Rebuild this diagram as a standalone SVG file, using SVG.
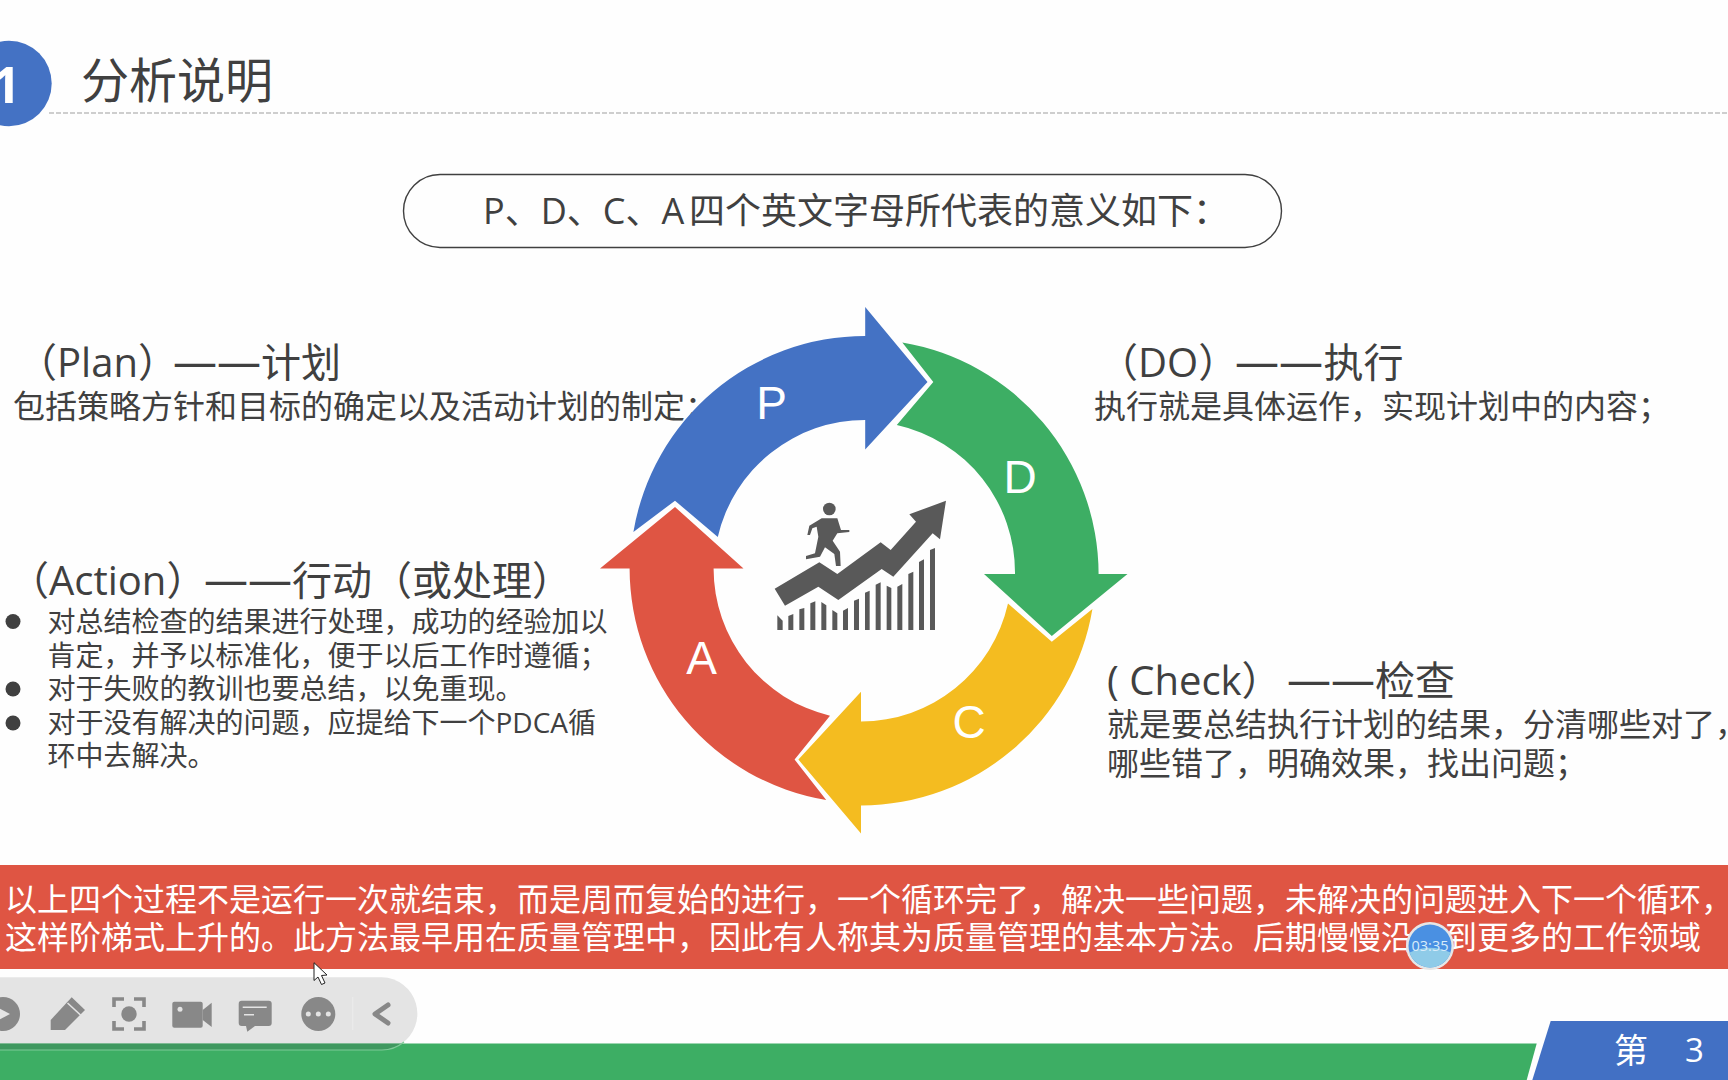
<svg xmlns="http://www.w3.org/2000/svg" width="1728" height="1080" viewBox="0 0 1728 1080">
<style>
text{font-family:"Open Sans","Noto Sans CJK SC",sans-serif;fill:#404040}
.h{font-size:40px}
.d{font-size:44px}
.b{font-size:32px}
.s{font-size:28px}
.w{font-size:32px;fill:#fff}
.l{font-family:"Liberation Sans",Arial,sans-serif;font-size:46px;fill:#fff;text-anchor:middle}
.ic{fill:#888}
.li{fill:none;stroke:#e4e4e4;stroke-width:1.6}
</style>
<rect width="1728" height="1080" fill="#fefefe"/>
<g id="header">
<circle cx="9" cy="83.5" r="42.7" fill="#4472c4"/>
<text x="-8" y="103" font-size="50" font-weight="700" style="fill:#fff">1</text>
<text x="81" y="98" font-size="48">分析说明</text>
<line x1="49" y1="113" x2="1728" y2="113" stroke="#bfbfbf" stroke-width="1.3" stroke-dasharray="5 2"/>
</g>
<g id="pill">
<rect x="403.5" y="174.5" width="878" height="73" rx="36.5" fill="#fefefe" stroke="#404040" stroke-width="1.4"/>
<text x="483" y="224" font-size="36">P、D、C、A<tspan x="689">四个英文字母所代表的意义如下：</tspan></text>
</g>
<g id="plan-text">
<text class="h" x="17" y="377">（Plan）<tspan class="d" x="173">——</tspan><tspan x="261">计划</tspan></text>
<text class="b" x="13" y="418">包括策略方针和目标的确定以及活动计划的制定；</text>
</g>
<g id="do-text">
<text class="h" x="1098" y="377">（DO）<tspan class="d" x="1235">——</tspan><tspan x="1323.5">执行</tspan></text>
<text class="b" x="1094" y="418">执行就是具体运作，实现计划中的内容；</text>
</g>
<g id="check-text">
<text class="h" x="1107" y="695">( Check）<tspan class="d" x="1287">——</tspan><tspan x="1375">检查</tspan></text>
<text class="b" x="1107" y="736">就是要总结执行计划的结果，分清哪些对了，</text>
<text class="b" x="1107" y="775">哪些错了，明确效果，找出问题；</text>
</g>
<g id="action-text">
<text class="h" x="9" y="595">（Action）<tspan class="d" x="204">——</tspan><tspan x="292">行动（或处理）</tspan></text>
<g fill="#404040"><circle cx="13" cy="621.5" r="7.5"/><circle cx="13" cy="689" r="7.5"/><circle cx="13" cy="723" r="7.5"/></g>
<text class="s" x="47.5" y="632">对总结检查的结果进行处理，成功的经验加以</text>
<text class="s" x="47.5" y="665.5">肯定，并予以标准化，便于以后工作时遵循；</text>
<text class="s" x="47.5" y="699">对于失败的教训也要总结，以免重现。</text>
<text class="s" x="47.5" y="733">对于没有解决的问题，应提给下一个PDCA循</text>
<text class="s" x="47.5" y="766">环中去解决。</text>
</g>
<g id="node-p">
<path fill="#4472c4" d="M633.4 532A235 235 0 0 1 865.2 336V307.1L927.5 382.1L865.2 449.6V420A151 151 0 0 0 717.8 537L675 500.7Z"/>
<text class="l" x="771.5" y="419">P</text>
</g>
<g id="node-d">
<path fill="#3dae64" d="M902.3 342.5A235 235 0 0 1 1098.6 573.9H1127.5L1051.8 636L984 573.9H1015A151 151 0 0 0 896.8 425L933.3 382.1Z"/>
<text class="l" x="1020" y="493">D</text>
</g>
<g id="node-c">
<path fill="#f4bc20" d="M1092.4 608.9A235 235 0 0 1 861 805.5V833.5L798.4 759.6L861 691.8V721.5A151 151 0 0 0 1008 603.6L1051.8 641.8Z"/>
<text class="l" x="969" y="738">C</text>
</g>
<g id="node-a">
<path fill="#df5543" d="M826.2 800A235 235 0 0 1 629.6 568.6H600L675 507L743.5 568.6H713.6A151 151 0 0 0 830 715.7L794.6 759.6Z"/>
<text class="l" x="701.6" y="674">A</text>
</g>
<g id="center-icon" fill="#595959" transform="translate(760 490) scale(.33333)">
<circle cx="208" cy="57" r="19"/>
<path d="M142 135L148 107L185 85H232L243 120H268V126L232 130L218 152L240 185L242 228H228L223 192L195 172L180 200L138 208V198L165 190L175 140L170 110L157 115L150 135Z"/>
<path d="M44 296L178 217L232 252L362 157L392 180L468 95L448 73L558 32L540 148L518 130L400 260L365 237L235 330L175 290L75 347Z"/>
<path d="M52 420V376L68 392V420ZM85 420V378L100 372V420ZM118 420V358L133 354V420ZM151 420V340L166 334V420ZM184 420V336L199 346V420ZM217 420V360L232 370V420ZM249 420V362L264 354V420ZM282 420V332L297 326V420ZM315 420V308L329 302V420ZM347 420V284L362 277V420ZM380 420V287L394 294V420ZM412 420V290L427 282V420ZM445 420V252L460 245V420ZM477 420V216L492 208V420ZM510 420V180L525 174V420Z"/>
</g>
<g id="banner">
<rect x="0" y="865" width="1728" height="104" fill="#df5543"/>
<text class="w" x="5" y="911">以上四个过程不是运行一次就结束，而是周而复始的进行，一个循环完了，解决一些问题，未解决的问题进入下一个循环，</text>
<text class="w" x="5" y="949">这样阶梯式上升的。此方法最早用在质量管理中，因此有人称其为质量管理的基本方法。后期慢慢沿</text>
<text class="w" x="1445" y="949">到更多的工作领域</text>
</g>
<g id="timer">
<circle cx="1430" cy="946" r="24" fill="#e6e6e6"/>
<circle cx="1430" cy="946" r="21.5" fill="#4a90e2"/>
<path d="M1409.5 952.5Q1430 943 1450.5 952.5A21.5 21.5 0 0 1 1409.5 952.5Z" fill="#8fcbe8"/>
<text x="1430" y="951" font-size="14.5" text-anchor="middle" style="fill:#d8ecfa">03:35</text>
</g>
<g id="footer">
<path d="M0 1043.5H1536.7L1526.7 1080H0Z" fill="#3dae64"/>
<path d="M1550.7 1021H1728V1080H1532.3Z" fill="#4270c4"/>
<text x="1614" y="1063" font-size="34" style="fill:#fff">第</text>
<text x="1685" y="1062" font-size="33" style="fill:#fff">3</text>
</g>
<g id="toolbar">
<path d="M0 977.3H382A36.3 36.3 0 0 1 401.6 1043.5H0Z" fill="#e4e4e4"/>
<path d="M0 1043.5H401.6Q392 1050 382 1050H0Z" fill="#3f985f"/>
<path d="M0 1050H382Q394 1050 404 1042" fill="none" stroke="#7fc997" stroke-width="1.2"/>
<circle class="ic" cx="3" cy="1014" r="17"/>
<path d="M-5 1006L10 1014L-5 1022Z" fill="#e4e4e4"/>
<path class="ic" d="M50.7 1030V1020L71.7 997.3L85 1010L65 1030Z"/>
<path class="li" d="M67.5 1003L80.5 1015"/>
<g fill="none" stroke="#888" stroke-width="3.6"><path d="M114 1007V999H124M134 999H144V1007M144 1021V1029H134M124 1029H114V1021"/></g>
<circle class="ic" cx="129" cy="1014" r="7.7"/>
<rect class="ic" x="172.3" y="1001.7" width="30.4" height="26" rx="2"/>
<path class="ic" d="M202.7 1010L211.7 1002.7V1027L202.7 1020Z"/>
<circle cx="180" cy="1009.3" r="2.5" fill="#e4e4e4"/>
<rect class="ic" x="238.7" y="1000.7" width="33" height="25.3" rx="3"/>
<path class="ic" d="M246 1026L247.3 1031.7L255 1026Z"/>
<path class="li" d="M242.7 1007.3H266.7M244 1014.7H254"/>
<circle class="ic" cx="318.3" cy="1014" r="17"/>
<g fill="#e4e4e4"><circle cx="308.3" cy="1014" r="2.5"/><circle cx="318.3" cy="1014" r="2.5"/><circle cx="328.3" cy="1014" r="2.5"/></g>
<line x1="352.7" y1="997" x2="352.7" y2="1030" stroke="#ececec"/>
<path d="M388 1005L375 1014L388 1023" fill="none" stroke="#888" stroke-width="5" stroke-linecap="round" stroke-linejoin="round"/>
</g>
<path id="cursor" d="M314 962.7V980.5L318 977L321.5 984.5L325 983L321.5 975.5L327 975Z" fill="#fff" stroke="#222" stroke-width="1"/>
</svg>
